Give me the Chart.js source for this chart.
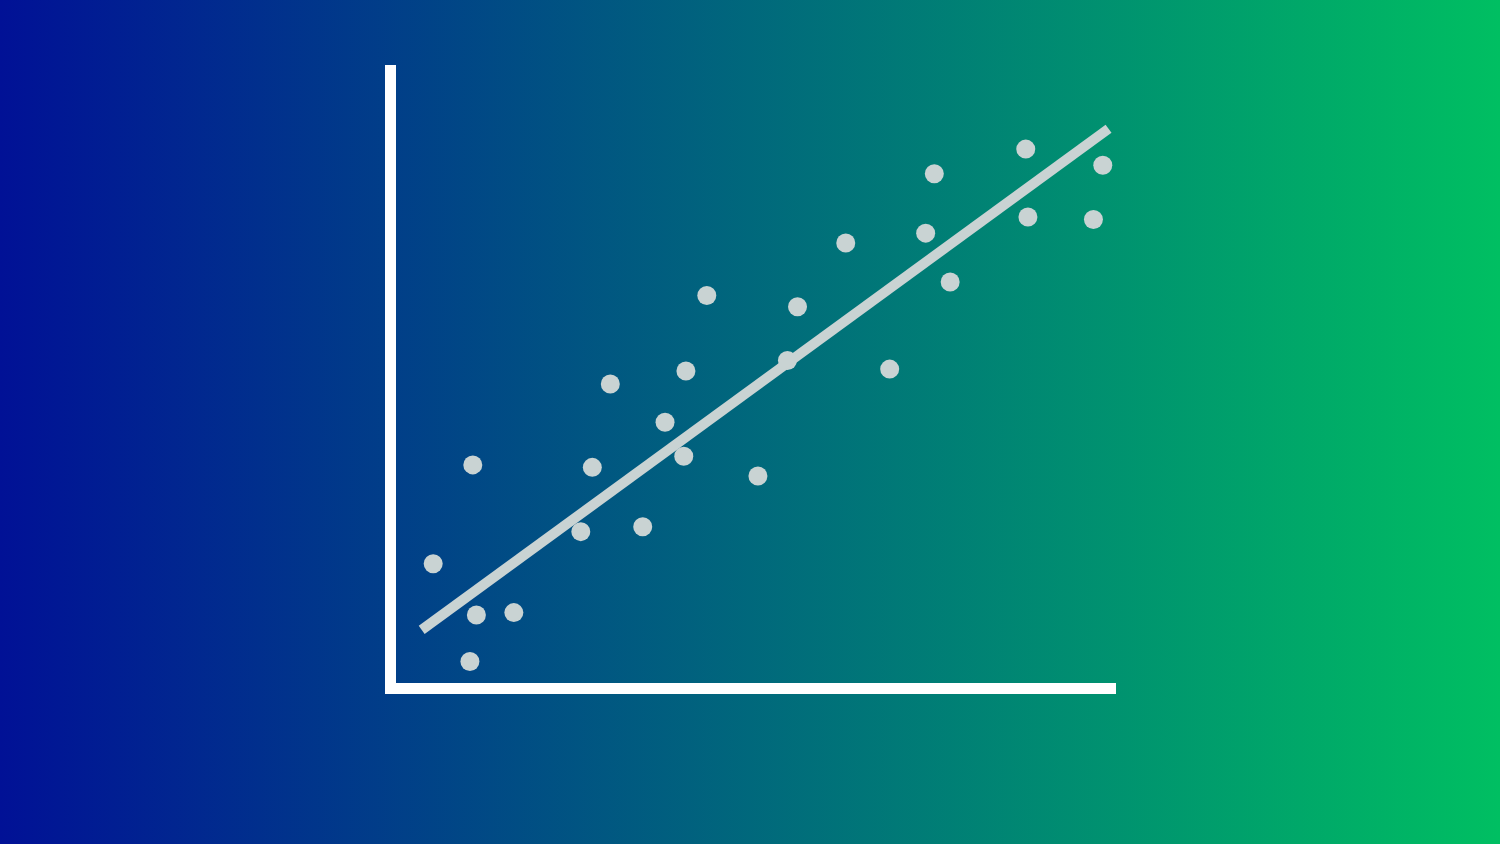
<!DOCTYPE html>
<html>
<head>
<meta charset="utf-8">
<script src="https://cdn.jsdelivr.net/npm/chart.js@4.4.1/dist/chart.umd.min.js"></script>
<style>
  html, body { margin: 0; padding: 0; overflow: hidden; }
  body { width: 1500px; height: 844px; background: linear-gradient(to right, #011196, #00bf62); }
  canvas { display: block; }
</style>
</head>
<body>
<canvas id="chart" width="1500" height="844"></canvas>
<script>
// observed points (x, y on a 0-100 scale)
const pointX = [6.0, 11.5, 12.0, 11.1, 17.2, 26.5, 28.1, 30.6, 35.1, 38.2, 40.8, 41.1, 44.0,
  51.1, 55.2, 56.6, 63.3, 69.4, 74.4, 75.6, 77.8, 88.3, 88.6, 97.7, 99.0]
const pointY = [20.1, 36.1, 11.8, 4.3, 12.2, 25.3, 35.7, 49.2, 26.1, 43.0, 37.5, 51.3, 63.5,
  34.3, 53.0, 61.7, 72.0, 51.6, 73.6, 83.2, 65.7, 87.2, 76.2, 75.8, 84.6]

// fitted trend line end points
const trendX = [4.4, 99.8]
const trendY = [9.4, 90.5]

const dotColor = '#c9d3d3'

const ctx = document.getElementById('chart').getContext('2d')

const axis = {
  type: 'linear',
  min: 0,
  max: 100,
  ticks: { display: false },
  grid: { display: false, drawTicks: false, lineWidth: 11 },
  border: { display: true, color: '#ffffff', width: 11 }
}

new Chart(ctx, {
  type: 'scatter',
  data: {
    datasets: [
      {
        type: 'line',
        data: trendX.map((x, i) => ({ x: x, y: trendY[i] })),
        borderColor: dotColor,
        borderWidth: 10,
        borderCapStyle: 'butt',
        pointRadius: 0,
        fill: false,
        clip: false
      },
      {
        data: pointX.map((x, i) => ({ x: x, y: pointY[i] })),
        backgroundColor: dotColor,
        borderWidth: 0,
        pointRadius: 9.5,
        pointHoverRadius: 9.5,
        clip: false
      }
    ]
  },
  options: {
    responsive: false,
    devicePixelRatio: 1,
    animation: false,
    layout: { padding: { left: 390, top: 70, right: 390, bottom: 156 } },
    plugins: {
      legend: { display: false },
      tooltip: { enabled: false }
    },
    scales: {
      x: axis,
      y: axis
    }
  }
})
</script>
</body>
</html>
